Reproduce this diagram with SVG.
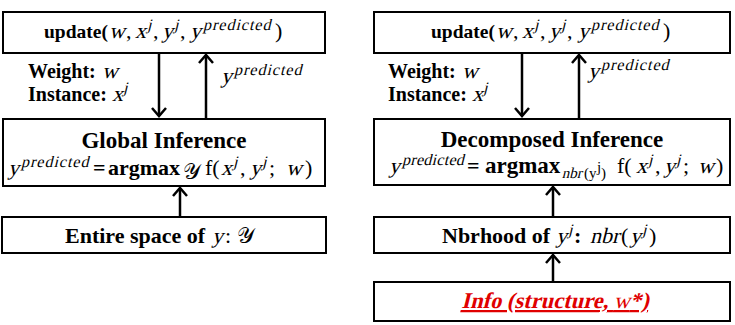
<svg xmlns="http://www.w3.org/2000/svg" width="735" height="325" viewBox="0 0 735 325" font-family="'Liberation Serif', serif">
<style>
  .box { fill: #fff; stroke: #000; stroke-width: 2; }
  .b { font-weight: bold; fill: #000; }
  .mt { font-weight: normal; font-size: 22px; fill: #000; }
  .s { font-size: 16px; letter-spacing: 1px; }
  .n { font-weight: normal; font-size: 22px; }
  .sub { font-weight: normal; font-size: 15px; }
  .conn { stroke: #000; stroke-width: 2.5; fill: none; marker-end: url(#ah); }
  .red { fill: #e00000; font-weight: bold; text-decoration: underline; }
</style>
<defs>
  <marker id="ah" markerUnits="userSpaceOnUse" markerWidth="20" markerHeight="20" refX="10" refY="10" orient="auto">
    <path d="M2,3 L10,10 L2,17" fill="none" stroke="#000" stroke-width="2.5"/>
  </marker>
</defs>
<rect width="735" height="325" fill="#fff"/>

<g id="connectors">
  <line class="conn" x1="159" y1="53" x2="159" y2="116"/>
  <line class="conn" x1="206" y1="119" x2="206" y2="55"/>
  <line class="conn" x1="180" y1="217" x2="180" y2="188"/>
  <line class="conn" x1="522" y1="53" x2="522" y2="116"/>
  <line class="conn" x1="579" y1="119" x2="579" y2="55"/>
  <line class="conn" x1="553" y1="217" x2="553" y2="187"/>
  <line class="conn" x1="553" y1="282" x2="553" y2="255"/>
</g>

<g id="left-update">
  <rect class="box" x="3" y="12" width="322" height="41"/>
  <text class="b" font-family="'Liberation Serif', serif" font-size="19.5" y="38"><tspan x="44">update(</tspan><tspan class="n" x="126">,</tspan><tspan class="n" x="153">,</tspan><tspan class="n" x="180">,</tspan><tspan class="n" x="275">)</tspan></text>
  <g transform="translate(0,38) skewX(-14)"><text class="mt" font-family="'Liberation Serif', serif"><tspan x="109" y="0">w</tspan><tspan x="135">x</tspan><tspan class="s" x="145" y="-8">j</tspan><tspan x="162" y="0">y</tspan><tspan class="s" x="172" y="-8">j</tspan><tspan x="190" y="0">y</tspan><tspan class="s" x="201" y="-8">predicted</tspan></text></g>
</g>

<g id="left-labels">
  <text class="b" font-family="'Liberation Serif', serif" font-size="20" x="28" y="78">Weight:</text>
  <g transform="translate(0,78) skewX(-14)"><text class="mt" font-family="'Liberation Serif', serif" font-size="21" x="102" y="0">w</text></g>
  <text class="b" font-family="'Liberation Serif', serif" font-size="20" x="28" y="101">Instance:</text>
  <g transform="translate(0,101) skewX(-14)"><text class="mt" font-family="'Liberation Serif', serif" font-size="21"><tspan x="112" y="0">x</tspan><tspan class="s" x="121" y="-8">j</tspan></text></g>
  <g transform="translate(0,83) skewX(-14)"><text class="mt" font-family="'Liberation Serif', serif"><tspan x="221" y="0">y</tspan><tspan class="s" x="232" y="-8">predicted</tspan></text></g>
</g>

<g id="left-global">
  <rect class="box" x="3" y="119" width="322" height="67"/>
  <text class="b" font-family="'Liberation Serif', serif" font-size="23" x="164" y="148" text-anchor="middle">Global Inference</text>
  <text class="b" font-family="'Liberation Serif', serif" font-size="22" y="175"><tspan x="93">=</tspan><tspan x="108">argmax</tspan><tspan class="n" x="183" y="179">𝒴</tspan><tspan class="n" x="205" y="175">f(</tspan><tspan class="n" x="240">,</tspan><tspan class="n" x="269">;</tspan><tspan class="n" x="305">)</tspan></text>
  <g transform="translate(0,175) skewX(-14)"><text class="mt" font-family="'Liberation Serif', serif"><tspan x="8" y="0">y</tspan><tspan class="s" x="19" y="-8">predicted</tspan><tspan x="221" y="0">x</tspan><tspan class="s" x="231" y="-8">j</tspan><tspan x="250" y="0">y</tspan><tspan class="s" x="260" y="-8">j</tspan><tspan x="286" y="0">w</tspan></text></g>
</g>

<g id="left-space">
  <rect class="box" x="2" y="217" width="324" height="36"/>
  <text class="b" font-family="'Liberation Serif', serif" font-size="22" y="243"><tspan x="65">Entire space of</tspan><tspan class="n" x="225">:</tspan><tspan class="n" x="237">𝒴</tspan></text>
  <g transform="translate(0,243) skewX(-14)"><text class="mt" font-family="'Liberation Serif', serif" x="212" y="0">y</text></g>
</g>

<g id="right-update">
  <rect class="box" x="374" y="12" width="356" height="41"/>
  <text class="b" font-family="'Liberation Serif', serif" font-size="19.5" y="38"><tspan x="431">update(</tspan><tspan class="n" x="513">,</tspan><tspan class="n" x="540">,</tspan><tspan class="n" x="567">,</tspan><tspan class="n" x="663">)</tspan></text>
  <g transform="translate(0,38) skewX(-14)"><text class="mt" font-family="'Liberation Serif', serif"><tspan x="496" y="0">w</tspan><tspan x="522">x</tspan><tspan class="s" x="532" y="-8">j</tspan><tspan x="549" y="0">y</tspan><tspan class="s" x="559" y="-8">j</tspan><tspan x="578" y="0">y</tspan><tspan class="s" x="589" y="-8">predicted</tspan></text></g>
</g>

<g id="right-labels">
  <text class="b" font-family="'Liberation Serif', serif" font-size="20" x="388" y="78">Weight:</text>
  <g transform="translate(0,78) skewX(-14)"><text class="mt" font-family="'Liberation Serif', serif" font-size="21" x="462" y="0">w</text></g>
  <text class="b" font-family="'Liberation Serif', serif" font-size="20" x="388" y="101">Instance:</text>
  <g transform="translate(0,101) skewX(-14)"><text class="mt" font-family="'Liberation Serif', serif" font-size="21"><tspan x="472" y="0">x</tspan><tspan class="s" x="481" y="-8">j</tspan></text></g>
  <g transform="translate(0,78) skewX(-14)"><text class="mt" font-family="'Liberation Serif', serif"><tspan x="588" y="0">y</tspan><tspan class="s" x="599" y="-8">predicted</tspan></text></g>
</g>

<g id="right-decomposed">
  <rect class="box" x="374" y="119" width="356" height="66"/>
  <text class="b" font-family="'Liberation Serif', serif" font-size="23" x="552" y="147" text-anchor="middle">Decomposed Inference</text>
  <text class="b" font-family="'Liberation Serif', serif" font-size="22" y="173"><tspan x="467">=</tspan><tspan x="485" font-size="23">argmax</tspan><tspan class="sub" x="584" y="178">(y</tspan><tspan class="sub" x="597" y="172" font-size="10">j</tspan><tspan class="sub" x="601" y="178">)</tspan><tspan class="n" x="617" y="173">f(</tspan><tspan class="n" x="655">,</tspan><tspan class="n" x="683">;</tspan><tspan class="n" x="716">)</tspan></text>
  <g transform="translate(0,173) skewX(-14)"><text class="mt" font-family="'Liberation Serif', serif"><tspan x="389" y="0">y</tspan><tspan class="s" x="400" y="-8" style="letter-spacing:0.3px">predicted</tspan><tspan x="563" y="5" font-size="15">nbr</tspan><tspan x="636" y="0">x</tspan><tspan class="s" x="646" y="-8">j</tspan><tspan x="664" y="0">y</tspan><tspan class="s" x="674" y="-8">j</tspan><tspan x="698" y="0">w</tspan></text></g>
</g>

<g id="right-nbrhood">
  <rect class="box" x="374" y="217" width="356" height="36"/>
  <text class="b" font-family="'Liberation Serif', serif" font-size="22" y="243"><tspan x="442">Nbrhood of</tspan><tspan x="574">:</tspan><tspan class="n" x="621">(</tspan><tspan class="n" x="649">)</tspan></text>
  <g transform="translate(0,243) skewX(-14)"><text class="mt" font-family="'Liberation Serif', serif"><tspan x="556" y="0">y</tspan><tspan class="s" x="566" y="-8">j</tspan><tspan x="590" y="0">nbr</tspan><tspan x="630" y="0">y</tspan><tspan class="s" x="640" y="-8">j</tspan></text></g>
</g>

<g id="right-info">
  <rect class="box" x="374" y="282" width="356" height="39"/>
  <g transform="translate(0,308) skewX(-14)"><text class="red" font-family="'Liberation Serif', serif" font-size="22.5" x="555" y="0" text-anchor="middle">Info (structure, <tspan font-weight="normal">w</tspan>*)</text></g>
</g>
</svg>
